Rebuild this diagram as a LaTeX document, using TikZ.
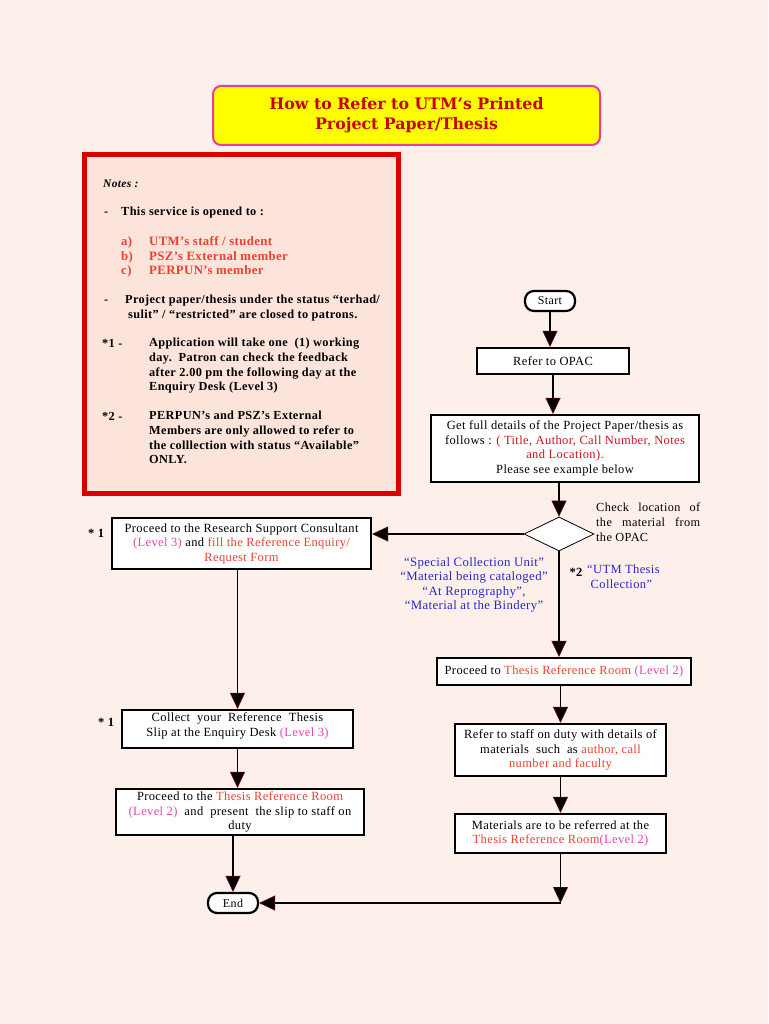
\documentclass[tikz,border=0pt]{standalone}
\usepackage{fontspec}
\setmainfont{Liberation Serif}[LetterSpace=3]
\newfontfamily\titlefont{DejaVu Serif}
\usetikzlibrary{arrows.meta,shapes.geometric}
\definecolor{bg}{RGB}{253,240,235}
\definecolor{notefill}{RGB}{252,228,218}
\definecolor{noteborder}{RGB}{218,0,0}
\definecolor{titlered}{RGB}{200,0,0}
\definecolor{titlepink}{RGB}{228,64,150}
\definecolor{ttl}{RGB}{255,255,0}
\definecolor{redt}{RGB}{234,66,50}
\definecolor{darkredt}{RGB}{200,20,30}
\definecolor{lvl}{RGB}{226,70,170}
\definecolor{bluet}{RGB}{40,40,200}
\tikzset{
  box/.style={draw, line width=2.2pt, fill=white, align=center, inner sep=2pt,
    font=\fontsize{12.5}{14.5}\selectfont},
  term/.style={draw, line width=2.2pt, fill=white, rounded corners=9pt,
    minimum width=50pt, minimum height=20pt, inner sep=1pt,
    font=\fontsize{12}{14}\selectfont},
  dec/.style={draw, line width=0.8pt, fill=white, diamond, aspect=2, inner sep=0pt,
    minimum width=70pt, minimum height=34pt},
  conn/.style={line width=1.2pt},
  arr/.style={conn, -{Triangle[length=16pt,width=15pt,fill=black,color=red!60!black,line width=0.4pt]}},
  note/.style={anchor=base west, inner sep=0pt, font=\fontsize{12.3}{14.7}\selectfont\bfseries},
  notebl/.style={anchor=north west, inner sep=0pt, align=left, font=\fontsize{12.3}{14.7}\selectfont\bfseries},
  notered/.style={note, text=redt, font=\fontsize{12.8}{14}\selectfont\bfseries},
  star/.style={inner sep=0pt, font=\fontsize{12.5}{14}\selectfont\bfseries},
}
\begin{document}
\begin{tikzpicture}[x=1pt,y=-1pt]
\fill[bg] (0,0) rectangle (768,1024);
\useasboundingbox (0,0) rectangle (768,1024);

% title
\node[draw=titlepink, line width=2pt, fill=ttl, rounded corners=8pt,
  minimum width=387pt, minimum height=59pt, align=center,
  font=\titlefont\bfseries\fontsize{15.8}{20}\selectfont, text=titlered]
  (title) at (406.5,115.5) {How to Refer to UTM’s Printed\\Project Paper/Thesis};

% notes box
\node[draw=noteborder, line width=5pt, fill=notefill, minimum width=314pt,
  minimum height=338pt] (notes) at (241,324) {};
\node[note, font=\fontsize{11.5}{13}\selectfont\bfseries\itshape] (n0) at (103,188) {Notes :};
\node[note] (n1d) at (104,216) {-};
\node[note] (n1) at (121,216) {This service is opened to :};
\node[notered] (na) at (121,245) {a)};
\node[notered] (nat) at (149,245) {UTM’s staff / student};
\node[notered] (nb) at (121,260) {b)};
\node[notered] (nbt) at (149,260) {PSZ’s External member};
\node[notered] (nc) at (121,274) {c)};
\node[notered] (nct) at (149,274) {PERPUN’s member};
\node[note] (n2d) at (104,303) {-};
\node[note] (n2) at (125,303) {Project paper/thesis under the status “terhad/};
\node[note] (n2b) at (128,318) {sulit” / “restricted” are closed to patrons.};
\node[note] (n3s) at (102,347) {*1 -};
\node[notebl] (n3) at (149,338) {Application will take one\ \ (1) working\\day.\ \ Patron can check the feedback\\after 2.00 pm the following day at the\\Enquiry Desk (Level 3)};
\node[note] (n4s) at (102,420) {*2 -};
\node[notebl] (n4) at (149,411) {PERPUN’s and PSZ’s External\\Members are only allowed to refer to\\the colllection with status “Available”\\ONLY.};

% right column
\node[term] (start) at (550,301) {Start};
\node[box, minimum width=152pt, minimum height=26pt] (opac) at (553,361) {Refer to OPAC};
\node[box, minimum width=268pt, minimum height=67pt] (full) at (565,448.5)
  {Get full details of the Project Paper/thesis as\\
   follows : \textcolor{darkredt}{( Title, Author, Call Number, Notes}\\
   \textcolor{darkredt}{and Location).}\\
   Please see example below};
\node[dec] (dec) at (559,534) {};
\node[anchor=north west, inner sep=0pt, align=left, font=\fontsize{12.3}{14.7}\selectfont]
  (chk) at (596,503) {\makebox[104pt][s]{Check location of}\\\makebox[104pt][s]{the material from}\\the OPAC};
\node[align=center, inner sep=0pt, text=bluet, font=\fontsize{12.8}{14.5}\selectfont]
  (other) at (474,585) {“Special Collection Unit”\\“Material\ being cataloged”\\“At Reprography”,\\“Material at the Bindery”};
\node[star] (s2) at (576,572) {*2};
\node[anchor=north west, inner sep=0pt, align=left, text=bluet, font=\fontsize{12.5}{14.5}\selectfont]
  (utm) at (587,565) {“UTM Thesis\\\ Collection”};
\node[box, minimum width=254pt, minimum height=27pt] (thr) at (564,671.5)
  {Proceed to \textcolor{redt}{Thesis Reference Room} \textcolor{lvl}{(Level 2)}};
\node[box, minimum width=211pt, minimum height=52pt] (staff) at (560.5,750)
  {Refer to staff on duty with details of\\
   materials\ \ such\ \ as \textcolor{redt}{author, call}\\
   \textcolor{redt}{number and faculty}};
\node[box, minimum width=211pt, minimum height=39pt] (mat) at (560.5,833.5)
  {Materials are to be referred at the\\
   \textcolor{redt}{Thesis Reference Room}\textcolor{lvl}{(Level 2)}};

% left column
\node[star] (s1a) at (96,533) {* 1};
\node[box, minimum width=259pt, minimum height=51pt] (rsc) at (241.5,543.5)
  {Proceed to the Research Support Consultant\\
   \textcolor{lvl}{(Level 3)} and \textcolor{redt}{fill the Reference Enquiry/}\\
   \textcolor{redt}{Request Form}};
\node[star] (s1b) at (106,722) {* 1};
\node[box, minimum width=231pt, minimum height=38pt] (col) at (237.5,729)
  {Collect\ \ your\ \ Reference\ \ Thesis\\
   Slip at the Enquiry Desk \textcolor{lvl}{(Level 3)}\rule[-9pt]{0pt}{9pt}};
\node[box, minimum width=248pt, minimum height=46pt] (trr) at (240,812)
  {Proceed to the \textcolor{redt}{Thesis Reference Room}\\
   \textcolor{lvl}{(Level 2)}\ \ and\ \ present\ \ the slip to staff on\\
   duty};
\node[term] (end) at (233,903) {End};
\coordinate (corner) at (mat.south |- end.east);

% connectors
\draw[arr] (start.south) -- (start.south |- opac.north);
\draw[arr] (opac.south) -- (opac.south |- full.north);
\draw[arr] (full.south -| dec.north) -- (dec.north);
\draw[arr] (dec.west) -- (dec.west -| rsc.east);
\draw[arr] (dec.south) -- (dec.south |- thr.north);
\draw[arr] (staff.north |- thr.south) -- (staff.north);
\draw[arr] (staff.south) -- (mat.north);
\draw[arr] (mat.south) -- (corner);
\draw[arr] (corner) -- (end.east);
\draw[arr] (col.north |- rsc.south) -- (col.north);
\draw[arr] (col.south) -- (col.south |- trr.north);
\draw[arr] (end.north |- trr.south) -- (end.north);
\end{tikzpicture}
\end{document}
